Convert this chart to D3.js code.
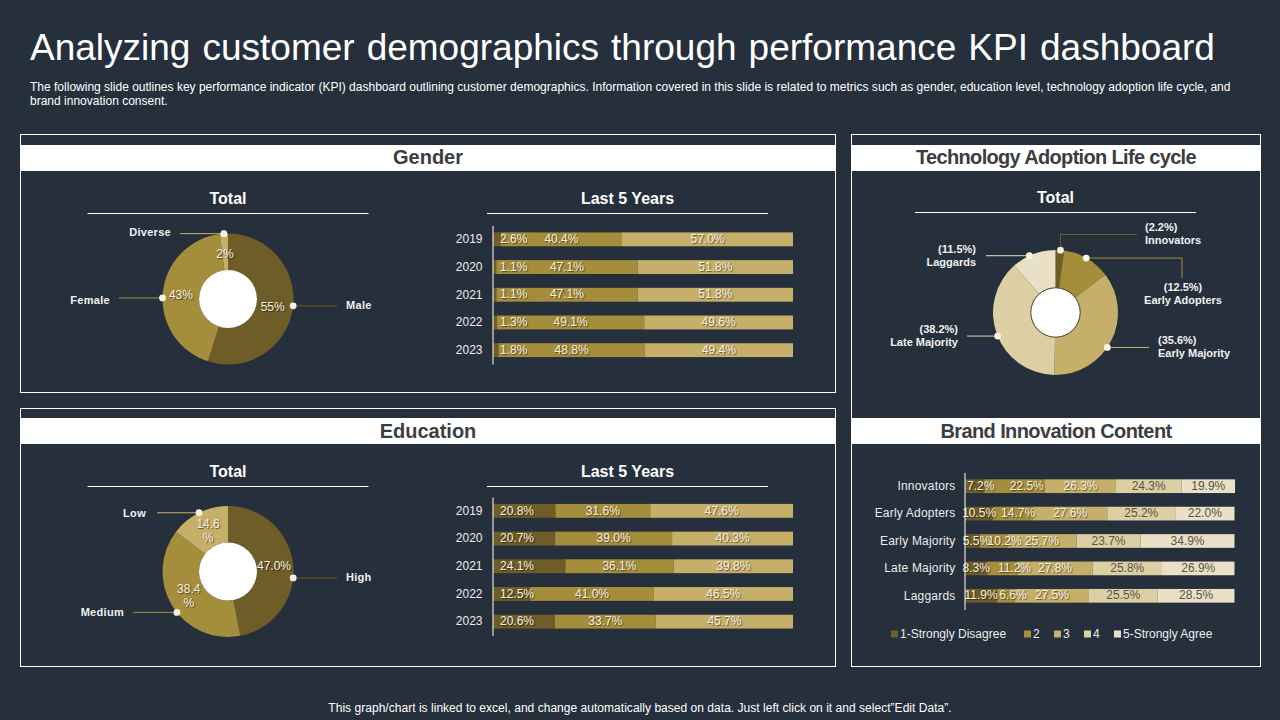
<!DOCTYPE html>
<html>
<head>
<meta charset="utf-8">
<title>KPI dashboard</title>
<script src="https://cdn.jsdelivr.net/npm/d3@7/dist/d3.min.js"></script>
<style>
  html, body { margin: 0; padding: 0; background: #262f3c; }
  svg { display: block; font-family: "Liberation Sans", Arial, sans-serif; }
  .value { text-shadow: 1px 1px 1px rgba(0, 0, 0, 0.55); }
  .axis text { font-size: 12px; fill: #ececec; font-family: "Liberation Sans", Arial, sans-serif; }
  .axis path { stroke: #ffffff; stroke-width: 1; }
</style>
</head>
<body>
<div id="chart"></div>
<script>
// data
const genderNames = ["Male", "Female", "Diverse"];
const genderTotal = [55, 43, 2];
const genderLabels = ["55%", "43%", "2%"];
const years = ["2019", "2020", "2021", "2022", "2023"];
const genderSeriesDiverse = [2.6, 1.1, 1.1, 1.3, 1.8];
const genderSeriesFemale = [40.4, 47.1, 47.1, 49.1, 48.8];
const genderSeriesMale = [57.0, 51.8, 51.8, 49.6, 49.4];

const educationNames = ["High", "Medium", "Low"];
const educationTotal = [47.0, 38.4, 14.6];
const educationLabels = [["47.0%"], ["38.4", "%"], ["14.6", "%"]];
const educationSeriesA = [20.8, 20.7, 24.1, 12.5, 20.6];
const educationSeriesB = [31.6, 39.0, 36.1, 41.0, 33.7];
const educationSeriesC = [47.6, 40.3, 39.8, 46.5, 45.7];

const adoptionNames = ["Innovators", "Early Adopters", "Early Majority", "Late Majority", "Laggards"];
const adoptionTotal = [2.2, 12.5, 35.6, 38.2, 11.5];
const adoptionLabels = ["(2.2%)", "(12.5%)", "(35.6%)", "(38.2%)", "(11.5%)"];

const brandCategories = adoptionNames;
const brandDisagree = [7.2, 10.5, 5.5, 8.3, 11.9];
const brandTwo = [22.5, 14.7, 10.2, 11.2, 6.6];
const brandThree = [26.3, 27.6, 25.7, 27.8, 27.5];
const brandFour = [24.3, 25.2, 23.7, 25.8, 25.5];
const brandAgree = [19.9, 22.0, 34.9, 26.9, 28.5];
const legendNames = ["1-Strongly Disagree", "2", "3", "4", "5-Strongly Agree"];

// palette
const shades = ["#6f5d28", "#a58e3b", "#c6af69", "#dccfa3", "#e9e0c6"];
const cream = "#f7f3e3";

const svg = d3.select("#chart").append("svg").attr("width", 1280).attr("height", 720);

function text(x, y, str, size, opts = {}) {
  return svg.append("text")
    .attr("x", x).attr("y", y + 1)
    .attr("text-anchor", opts.anchor || "start")
    .attr("dominant-baseline", "middle")
    .attr("font-size", size)
    .attr("font-weight", opts.weight || "normal")
    .attr("fill", opts.fill || "#ffffff")
    .attr("word-spacing", opts.wordSpacing || 0)
    .attr("letter-spacing", opts.letterSpacing || 0)
    .text(str);
}

// slide heading
text(30, 49, "Analyzing customer demographics through performance KPI dashboard", 37, { wordSpacing: 1.75 });
text(30, 86.5, "The following slide outlines key performance indicator (KPI) dashboard outlining customer demographics. Information covered in this slide is related to metrics such as gender, education level, technology adoption life cycle, and", 12, { letterSpacing: 0.005 });
text(30, 100.5, "brand innovation consent.", 12, { letterSpacing: 0.005 });
text(640, 708, "This graph/chart is linked to excel, and change automatically based on data. Just left click on it and select\u201dEdit Data\u201d.", 12, { anchor: "middle", letterSpacing: 0.03 });

// panels
function panel(x0, x1, y0, y1) {
  svg.append("rect").attr("x", x0 + 0.5).attr("y", y0 + 0.5)
    .attr("width", x1 - x0).attr("height", y1 - y0)
    .attr("fill", "none").attr("stroke", "#ffffff").attr("stroke-width", 1);
}
function band(x0, x1, y, title, spacing, shift) {
  svg.append("rect").attr("x", x0).attr("y", y).attr("width", x1 - x0).attr("height", 26).attr("fill", "#ffffff");
  text((x0 + x1) / 2, y + 12.5 + (shift || 0), title, 20, { anchor: "middle", weight: "bold", fill: "#3d3d3f", letterSpacing: spacing || 0 });
}
function subhead(cx, y, title) {
  text(cx, y + 1, title, 16, { anchor: "middle", weight: "bold" });
  const ly = Math.floor(y + 15.5) + 0.5;
  svg.append("line").attr("x1", cx - 140.5).attr("x2", cx + 140.5)
    .attr("y1", ly).attr("y2", ly).attr("stroke", "#ffffff").attr("stroke-width", 1);
}

panel(20, 835, 134, 392);
panel(20, 835, 408, 666);
panel(851, 1260, 134, 666);
band(21, 835, 145, "Gender");
band(21, 835, 418, "Education", 0, 1);
band(852, 1260, 145, "Technology Adoption Life cycle", -0.67);
band(852, 1260, 418, "Brand Innovation Content", -0.6, 1);
subhead(228, 197.5, "Total");
subhead(627.5, 197.5, "Last 5 Years");
subhead(1055.5, 196.5, "Total");
subhead(228, 471, "Total");
subhead(627.5, 471, "Last 5 Years");

// donut with callouts; layout[i]: turn = dot angle shift (deg), path = leader bend/end, lines = label block
function donut(cfg) {
  const g = svg.append("g").attr("transform", `translate(${cfg.cx},${cfg.cy})`);
  const pie = d3.pie().sort(null).value((d) => d);
  const arc = d3.arc().innerRadius(cfg.inner).outerRadius(cfg.outer);
  const arcs = pie(cfg.values);

  g.selectAll("path.slice").data(arcs).enter().append("path")
    .attr("class", "slice")
    .attr("d", arc)
    .attr("fill", (d, i) => cfg.colors[i]);

  g.append("circle").attr("r", cfg.inner)
    .attr("fill", "#ffffff")
    .attr("stroke", cfg.holeStroke || "none");

  arcs.forEach((d, i) => {
    const l = cfg.layout[i];
    const a = (d.startAngle + d.endAngle) / 2 + (l.turn * Math.PI) / 180;
    const dx = Math.sin(a) * cfg.outer;
    const dy = -Math.cos(a) * cfg.outer;
    const pts = [[dx, dy]].concat(l.path.map((p) => [p[0] === null ? dx : p[0] - cfg.cx, p[1] === null ? dy : p[1] - cfg.cy]));

    g.append("path").attr("d", d3.line()(pts)).attr("fill", "none")
      .attr("stroke", cfg.colors[i]).attr("stroke-width", 1);
    g.append("circle").attr("cx", dx).attr("cy", dy).attr("r", 3.4).attr("fill", cream);

    l.lines.forEach((str, k) => {
      text(l.x, l.y + 1 + k * 13, str, 11, { anchor: l.anchor, weight: "bold", fill: "#f1f1f1", letterSpacing: cfg.nameSpacing || 0 });
    });

    if (cfg.labels) {
      const c = arc.centroid(d);
      const nudge = cfg.labelNudge[i];
      [].concat(cfg.labels[i]).forEach((str, k) => {
        text(cfg.cx + c[0] + nudge[0], cfg.cy + c[1] + nudge[1] + k * 14, str, 12, { anchor: "middle", fill: cream }).attr("class", "value");
      });
    }
  });
}

donut({
  cx: 228, cy: 299, outer: 65.5, inner: 29,
  values: genderTotal,
  colors: [shades[0], shades[1], shades[2]],
  labels: genderLabels,
  labelNudge: [[-2, 0], [0, 0], [0, 2]],
  nameSpacing: 0.3,
  layout: [
    { turn: -3, path: [[337, null]], x: 346, y: 304.5, anchor: "start", lines: [genderNames[0]] },
    { turn: -4.5, path: [[119, null]], x: 110, y: 299.5, anchor: "end", lines: [genderNames[1]] },
    { turn: 0, path: [[180, null]], x: 171, y: 231.5, anchor: "end", lines: [genderNames[2]] },
  ],
});

donut({
  cx: 228, cy: 571.5, outer: 65.5, inner: 29,
  values: educationTotal,
  colors: [shades[0], shades[1], shades[2]],
  labels: educationLabels,
  labelNudge: [[-1, -1], [1, -7], [1, -5.5]],
  nameSpacing: 0.3,
  layout: [
    { turn: 11, path: [[337, null]], x: 346, y: 576.5, anchor: "start", lines: [educationNames[0]] },
    { turn: -7, path: [[133, null]], x: 124, y: 611.5, anchor: "end", lines: [educationNames[1]] },
    { turn: 0, path: [[157, null]], x: 146, y: 512.5, anchor: "end", lines: [educationNames[2]] },
  ],
});

donut({
  cx: 1055.5, cy: 312.5, outer: 62.5, inner: 24.7,
  values: adoptionTotal,
  colors: shades,
  holeStroke: "#4a4632",
  layout: [
    { turn: 0.6, path: [[null, 234.5], [1137, 234.5]], x: 1145, y: 226.5, anchor: "start", lines: [adoptionLabels[0], adoptionNames[0]] },
    { turn: -1, path: [[1182, null], [1182, 278]], x: 1183, y: 286.5, anchor: "middle", lines: [adoptionLabels[1], adoptionNames[1]] },
    { turn: 7, path: [[1149, null]], x: 1158, y: 339.5, anchor: "start", lines: [adoptionLabels[2], adoptionNames[2]] },
    { turn: -2, path: [[967, null]], x: 958, y: 328.5, anchor: "end", lines: [adoptionLabels[3], adoptionNames[3]] },
    { turn: -4, path: [[986, null]], x: 976, y: 248.5, anchor: "end", lines: [adoptionLabels[4], adoptionNames[4]] },
  ],
});

// stacked bars
function stacked(cfg) {
  const rows = cfg.categories.map((c, i) => {
    const row = { category: c };
    cfg.series.forEach((s, k) => { row[k] = s[i]; });
    return row;
  });
  const keys = cfg.series.map((s, k) => k);
  const x = d3.scaleLinear().domain([0, 100]).range([cfg.x0, cfg.x1]);
  const y = d3.scaleBand().domain(cfg.categories).range([cfg.y0, cfg.y1]).paddingInner(0.5).paddingOuter(0.25);

  const layers = d3.stack().keys(keys)(rows);

  layers.forEach((layer, k) => {
    svg.append("g").selectAll("rect").data(layer).enter().append("rect")
      .attr("x", (d) => x(d[0]))
      .attr("y", (d) => y(d.data.category))
      .attr("width", (d) => x(d[1]) - x(d[0]))
      .attr("height", y.bandwidth())
      .attr("fill", cfg.colors[k]);
  });

  // labels after every bar, the short segments spill over their neighbours
  layers.forEach((layer, k) => {
    layer.forEach((d, i) => {
      const nudge = cfg.nudge && cfg.nudge[k] ? cfg.nudge[k][i] : 0;
      const atBase = k === 0 && cfg.baseLabels;
      const lx = atBase ? x(0) + 7 : (x(d[0]) + x(d[1])) / 2 + nudge;
      const dark = cfg.darkFrom !== undefined && k >= cfg.darkFrom;
      text(lx, y(d.data.category) + y.bandwidth() / 2 - 0.5, d3.format(".1f")(cfg.series[k][i]) + "%", 12, {
        anchor: atBase ? "start" : "middle",
        fill: dark ? "#57554a" : cream,
      }).attr("class", dark ? null : "value");
    });
  });

  svg.append("g").attr("class", "axis")
    .attr("transform", `translate(${cfg.x0 - 0.5},0)`)
    .attr("letter-spacing", cfg.tickSpacing || 0)
    .call(d3.axisLeft(y).tickSize(0).tickPadding(cfg.tickPad));
}

stacked({
  categories: years,
  series: [genderSeriesDiverse, genderSeriesFemale, genderSeriesMale],
  colors: [shades[0], shades[1], shades[2]],
  x0: 493, x1: 793, y0: 225.5, y1: 364, tickPad: 10,
  baseLabels: true,
});

stacked({
  categories: years,
  series: [educationSeriesA, educationSeriesB, educationSeriesC],
  colors: [shades[0], shades[1], shades[2]],
  x0: 493, x1: 793, y0: 497, y1: 635.5, tickPad: 10,
  baseLabels: true,
});

stacked({
  categories: brandCategories,
  series: [brandDisagree, brandTwo, brandThree, brandFour, brandAgree],
  colors: shades,
  x0: 965, x1: 1234.5, y0: 472.5, y1: 609.5, tickPad: 9,
  tickSpacing: 0.2,
  darkFrom: 3,
  nudge: [[6, 0, 4, 0, 0], [12, 5, 11, 12, 7]],
});

// legend
const legendX = [891, 1024, 1054, 1084, 1114];
legendNames.forEach((name, i) => {
  svg.append("rect").attr("x", legendX[i]).attr("y", 630.5).attr("width", 7).attr("height", 7).attr("fill", shades[i]);
  text(legendX[i] + 9, 633.5, name, 12, { fill: "#ececec" });
});
</script>
</body>
</html>
